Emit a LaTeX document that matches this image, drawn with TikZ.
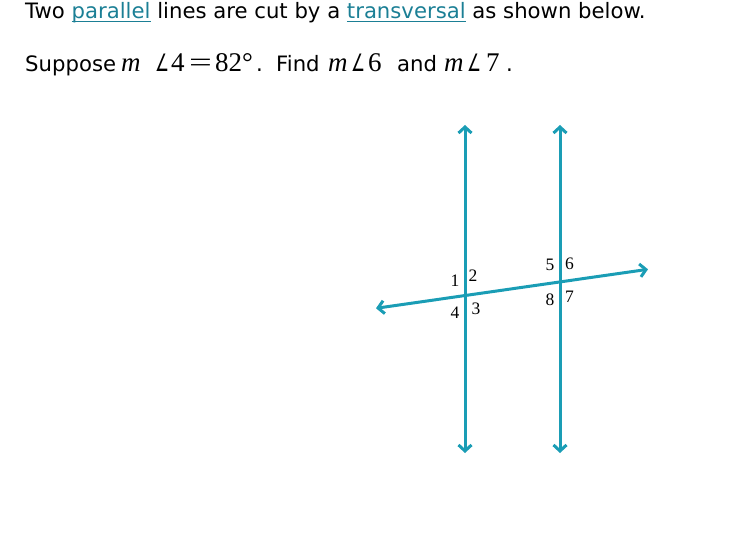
\documentclass[tikz,border=0pt]{standalone}
\usepackage{fontspec}
\setmainfont{DejaVu Sans}
\newfontfamily\tms{Liberation Serif}
\usetikzlibrary{arrows.meta}

\definecolor{lineTeal}{HTML}{1A9DB5}
\definecolor{linkTeal}{HTML}{1B7F95}

% underlined link word
\newcommand{\lnk}[1]{\textcolor{linkTeal}{\setbox0\hbox{#1}\rlap{\rule[-3pt]{\wd0}{1.1pt}}\box0}}
% angle sign and wide equals sign
\newcommand{\ang}{\resizebox{14pt}{17.5pt}{\rmfamily\fontsize{23.5}{26}\selectfont ∠}}
\newcommand{\eqs}{\scalebox{1.5}[1]{=}}

\begin{document}
\begin{tikzpicture}[
    x=1pt, y=-1pt,
    line_style/.style={lineTeal, line width=3pt, {Straight Barb[length=6pt,width=13pt,line width=3pt]}-{Straight Barb[length=6pt,width=13pt,line width=3pt]}},
    text_style/.style={anchor=base west, inner sep=0, font=\fontsize{21.2}{24}\selectfont},
    math_style/.style={anchor=base west, inner sep=0, font=\tms\fontsize{27}{30}\selectfont},
    num_style/.style={inner sep=0, font=\tms\fontsize{17.5}{20}\selectfont}
]
    \useasboundingbox (0,0) rectangle (730,545);

    % --- 题目文字 ---
    \node[text_style] (line1) at (25,19) {Two \lnk{parallel} lines are cut by a \lnk{transversal} as shown below.};

    \node[text_style] (suppose) at (25,72) {Suppose};
    \node[text_style] (dot1) at (256,72) {.};
    \node[text_style] (find) at (276,72) {Find};
    \node[text_style] (and) at (397,72) {and};
    \node[text_style] (dot2) at (506,72) {.};
    \foreach \x/\t [count=\i] in {121/\itshape m, 155/\ang, 171/4, 189/\eqs, 215/82°,
                                  328/\itshape m, 351/\ang, 368/6,
                                  444/\itshape m, 467/\ang, 486/7} {
        \node[math_style] (m\i) at (\x,72) {\t};
    }

    % --- 端点 ---
    \coordinate (pTop) at (465,125);
    \coordinate (pBot) at (465,453);
    \coordinate (qTop) at (560,125);
    \coordinate (qBot) at (560,453);
    \coordinate (tL) at (376,308.3);
    \coordinate (tR) at (648,269.3);

    % --- 平行线与截线 ---
    \draw[line_style] (pBot) -- (pTop);
    \draw[line_style] (qBot) -- (qTop);
    \draw[line_style] (tL) -- (tR);

    % --- 角的编号 ---
    \foreach \n/\x/\y in {1/455/281, 2/473/275.5, 3/476/308.5, 4/455/312.5,
                          5/550/265, 6/569.5/263.5, 7/569.5/296.5, 8/550/300} {
        \node[num_style] (a\n) at (\x,\y) {\n};
    }

\end{tikzpicture}
\end{document}
